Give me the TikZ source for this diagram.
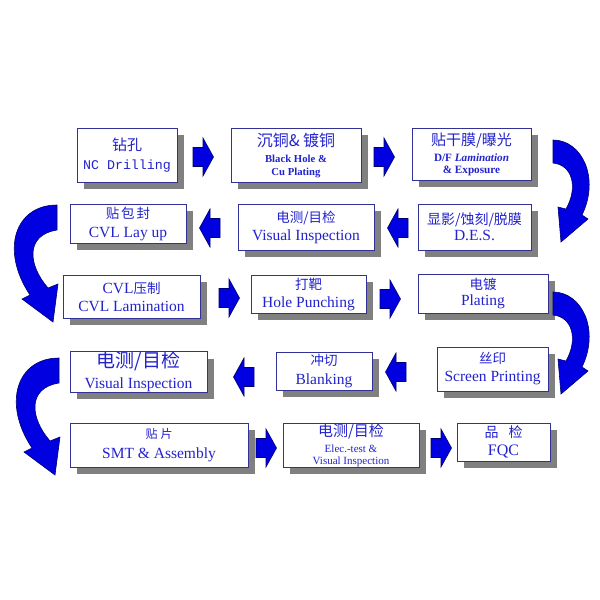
\documentclass[tikz,border=0pt]{standalone}
\usepackage{fontspec}
\setmainfont{Liberation Serif}
\newfontfamily\cjk{Noto Sans CJK SC}
\newfontfamily\monof{Liberation Mono}
\usetikzlibrary{shadows}
\definecolor{txtblue}{RGB}{35,35,205}
\definecolor{boxline}{RGB}{50,50,150}
\definecolor{shadowgray}{RGB}{128,128,128}
\definecolor{arrfill}{RGB}{0,0,225}
\definecolor{arrline}{RGB}{0,0,110}
\newcommand\fs[2]{\fontsize{#1}{#2}\selectfont}
\begin{document}
\begin{tikzpicture}[x=1pt,y=-1pt,
  pbox/.style={draw=boxline, line width=1pt, fill=white, inner sep=0pt, align=center, text=txtblue,
    drop shadow={shadow xshift=7pt, shadow yshift=-7pt, fill=shadowgray, opacity=1}},
  rarr/.pic={\filldraw[fill=arrfill, draw=arrline, line width=0.6pt]
     (-10,-9.5) -- (0,-9.5) -- (0,-19) -- (10.5,0) -- (0,19) -- (0,9.5) -- (-10,9.5) -- cycle;},
  rcurve/.pic={\filldraw[fill=arrfill, draw=arrline, line width=0.6pt]
     (0,0) .. controls (29,0) and (47,38) .. (29,75) -- (35,79) -- (8,102) -- (5,67) -- (13,69)
     .. controls (25,48) and (20,25) .. (0,23) -- cycle;},
  lcurve/.pic={\filldraw[fill=arrfill, draw=arrline, line width=0.6pt]
     (0,0) .. controls (-42,0) and (-57,45) .. (-27,90) -- (-35,94) -- (-4,117) -- (1,79) -- (-9,83)
     .. controls (-29,60) and (-32,30) .. (0,25) -- cycle;}
]
\useasboundingbox (0,0) rectangle (600,600);

% row 1
\node[pbox, minimum width=100pt, minimum height=54pt, font=\fs{15}{19}] (A) at (127,155)
  {{\cjk 钻孔}\\{\monof\fs{13.3}{19}NC Drilling}};
\node[pbox, minimum width=130pt, minimum height=54pt, font=\fs{16}{16}] (B) at (296,155)
  {{\cjk 沉铜\& 镀铜}\\{\bfseries\fs{10.7}{13}Black Hole \&}\\[-3pt]{\bfseries\fs{10.7}{13}Cu Plating}};
\node[pbox, minimum width=119pt, minimum height=52pt, font=\fs{15}{16}] (C) at (471.5,154)
  {{\cjk 贴干膜/曝光}\\{\bfseries\fs{11.2}{12}D/F \textit{Lamination}}\\[-4pt]{\bfseries\fs{11.2}{12}\& Exposure}};

% row 2
\node[pbox, minimum width=113pt, minimum height=46pt, font=\fs{15.5}{16}] (D) at (474.5,227)
  {{\cjk\fs{14}{16}显影/蚀刻/脱膜}\\D.E.S.};
\node[pbox, minimum width=136pt, minimum height=46pt, font=\fs{15.5}{18}] (E) at (306,227)
  {{\cjk\fs{13.5}{18}电测/目检}\\Visual Inspection};
\node[pbox, minimum width=116pt, minimum height=39pt, font=\fs{15.5}{19}] (F) at (128,223.5)
  {{\cjk\fs{13.5}{19}贴\hspace{2pt}包\hspace{2pt}封}\\CVL Lay up};

% row 3
\node[pbox, minimum width=137pt, minimum height=43pt, font=\fs{15.5}{18}] (G) at (131.5,296.5)
  {CVL{\cjk\fs{13.5}{18}压制}\\CVL Lamination};
\node[pbox, minimum width=115pt, minimum height=38pt, font=\fs{15.5}{18}] (H) at (308.5,294)
  {{\cjk\fs{13.5}{18}打靶}\\Hole Punching};
\node[pbox, minimum width=130pt, minimum height=39pt, font=\fs{15.5}{16}] (I) at (483,293.5)
  {{\cjk\fs{13.5}{16}电镀}\\Plating};

% row 4
\node[pbox, minimum width=111pt, minimum height=44pt, font=\fs{15.5}{18}] (J) at (492.5,369)
  {{\cjk\fs{13.5}{18}丝印}\\Screen Printing};
\node[pbox, minimum width=96pt, minimum height=38pt, font=\fs{15.5}{19}] (K) at (324,371)
  {{\cjk\fs{13.5}{19}冲切}\\Blanking};
\node[pbox, minimum width=137pt, minimum height=40pt, font=\fs{15.5}{21}] (L) at (138.5,372)
  {{\cjk\fs{19}{21}电测/目检}\\Visual Inspection};

% row 5
\node[pbox, minimum width=178pt, minimum height=44pt, font=\fs{15.5}{20}] (M) at (159,445)
  {{\cjk\fs{12}{20}贴\hspace{3pt}片}\\SMT \& Assembly};
\node[pbox, minimum width=136pt, minimum height=44pt, font=\fs{11}{16}] (N) at (351,445)
  {{\cjk\fs{15}{16}电测/目检}\\Elec.-test \&\\[-4pt]Visual Inspection};
\node[pbox, minimum width=93pt, minimum height=38pt, font=\fs{16}{18}] (O) at (503.5,442)
  {{\cjk\fs{14}{18}品\hspace{10pt}检}\\FQC};

% straight block arrows
\pic at (203,157) {rarr};
\pic at (384,157) {rarr};
\pic[xscale=-1] at (398,228) {rarr};
\pic[xscale=-1] at (210,228) {rarr};
\pic at (229,298) {rarr};
\pic at (390,299) {rarr};
\pic[xscale=-1] at (396,372) {rarr};
\pic[xscale=-1] at (244,377) {rarr};
\pic at (266,448) {rarr};
\pic at (441,448) {rarr};

% curved arrows
\pic at (553,140) {rcurve};
\pic at (553,292) {rcurve};
\pic at (57,205) {lcurve};
\pic at (59,358) {lcurve};
\end{tikzpicture}
\end{document}
